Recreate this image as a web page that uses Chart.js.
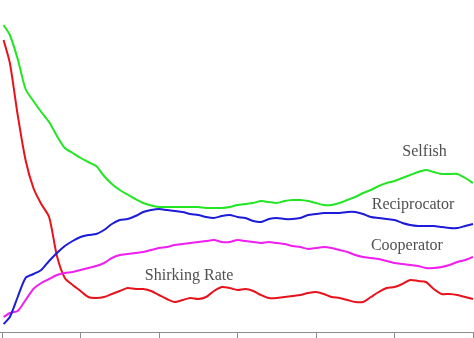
<!DOCTYPE html>
<html>
<head>
<meta charset="utf-8">
<script src="https://cdn.jsdelivr.net/npm/chart.js@4"></script>
<style>
	html, body { margin: 0; padding: 0; background: #fff; }
	canvas { display: block; }
</style>
</head>
<body>
<canvas id="myChart" width="474" height="338"></canvas>
<script>
// generations (x) and population shares for each strategy
const generations = [2, 10, 20, 30, 40, 50, 60, 70, 80, 90, 100, 110, 120, 130, 140, 150, 160, 170, 180, 190,
	200, 210, 220, 230, 240, 250, 260, 270, 280, 290, 300, 310, 320, 330, 340, 350, 360, 370, 380, 390,
	400, 410, 420, 430, 440, 450, 460, 470, 480, 490, 500, 510, 520, 530, 540, 550, 560, 570, 580, 590, 600];

const tickValues = [0, 100, 200, 300, 400, 500, 600];

const selfish = [307, 297, 273, 243, 231, 220, 210, 196, 184, 179, 174, 170, 166, 156, 148, 142, 137.5, 133, 129, 126.5,
	125, 125, 125, 125, 125, 125, 124, 124, 124, 125, 127, 128, 129, 131, 130, 129, 131, 132, 132, 131,
	129, 127, 127, 129, 132, 135, 139, 142, 146, 149, 151, 154, 157, 160, 162, 160, 158, 158, 158, 154, 149];

const reciprocator = [8, 15, 35, 54, 58, 62, 71, 79, 86, 91, 95, 97, 98, 102, 108, 112, 113, 116, 120, 122,
	123, 122, 121, 120, 118, 117, 115, 114, 116, 117, 115, 114, 111, 110, 113, 114, 113, 113, 114, 117,
	118, 119, 119, 119, 120, 120, 118, 115, 114, 113, 112, 109, 107, 106, 106, 106, 105, 104, 104, 106, 108];

const cooperator = [15, 19, 21, 32, 43, 49, 53, 57, 59, 60, 62, 64, 66, 69, 74, 77, 78, 79, 80, 82,
	84, 85, 87, 88, 89, 90, 91, 92, 90, 90, 92, 91, 90, 89, 90, 89, 88, 86, 85, 83,
	84, 85, 84, 82, 80, 77, 75, 74, 73, 71, 69, 68, 67, 66, 64, 64, 65, 67, 70, 72, 75];

const shirkingRate = [292, 269, 217, 172, 144, 128, 115, 76, 54, 47, 41, 35, 34, 35, 38, 41, 44, 43, 43, 41,
	37, 33, 30, 32, 34, 33, 35, 41, 45, 44, 42, 43, 41, 37, 34, 34, 35, 36, 37, 39,
	40, 38, 35, 34, 32, 30, 30, 35, 40, 44, 45, 48, 52, 51, 50, 43, 38, 38, 37, 35, 33];

// curve labels, anchored in data units (left edge, baseline)
const curveLabels = [
	{ text: 'Selfish', x: 510, y: 176 },
	{ text: 'Reciprocator', x: 471, y: 123 },
	{ text: 'Cooperator', x: 470, y: 82 },
	{ text: 'Shirking Rate', x: 182, y: 52 },
];

const toPoints = (ys) => ys.map((y, i) => ({ x: generations[i], y: y }));

const makeSet = (label, ys, color) => ({
	label: label,
	data: toPoints(ys),
	borderColor: color,
	borderWidth: 2,
	pointRadius: 0,
	tension: 0.25,
	fill: false,
});

const labelPlugin = {
	id: 'curveLabels',
	afterDatasetsDraw(chart) {
		const ctx = chart.ctx;
		const xs = chart.scales.x;
		const ys = chart.scales.y;
		ctx.save();
		ctx.font = '16px "Liberation Serif", "Times New Roman", serif';
		ctx.fillStyle = '#505050';
		ctx.textAlign = 'left';
		ctx.textBaseline = 'alphabetic';
		curveLabels.forEach((l) => {
			ctx.fillText(l.text, xs.getPixelForValue(l.x), ys.getPixelForValue(l.y));
		});
		ctx.restore();
	},
};

const ctx = document.getElementById('myChart').getContext('2d');
const myChart = new Chart(ctx, {
	type: 'line',
	data: {
		datasets: [
			makeSet('Selfish', selfish, '#22e622'),
			makeSet('Reciprocator', reciprocator, '#1c1cd8'),
			makeSet('Cooperator', cooperator, '#f01ef0'),
			makeSet('Shirking Rate', shirkingRate, '#e8121c'),
		],
	},
	options: {
		responsive: false,
		animation: false,
		layout: { padding: 0 },
		plugins: {
			legend: { display: false },
			tooltip: { enabled: false },
		},
		scales: {
			x: {
				type: 'linear',
				// a little room either side so the axis runs the full width
				min: -2.55,
				max: 601.27,
				ticks: { display: false },
				afterBuildTicks: (scale) => {
					scale.ticks = tickValues.map((v) => ({ value: v }));
				},
				grid: {
					drawOnChartArea: false,
					drawTicks: true,
					tickLength: 6,
					color: '#8c8c8c',
				},
				border: { color: '#8c8c8c', width: 1 },
			},
			y: {
				display: false,
				min: 0,
				max: 332,
			},
		},
	},
	plugins: [labelPlugin],
});
</script>
</body>
</html>
